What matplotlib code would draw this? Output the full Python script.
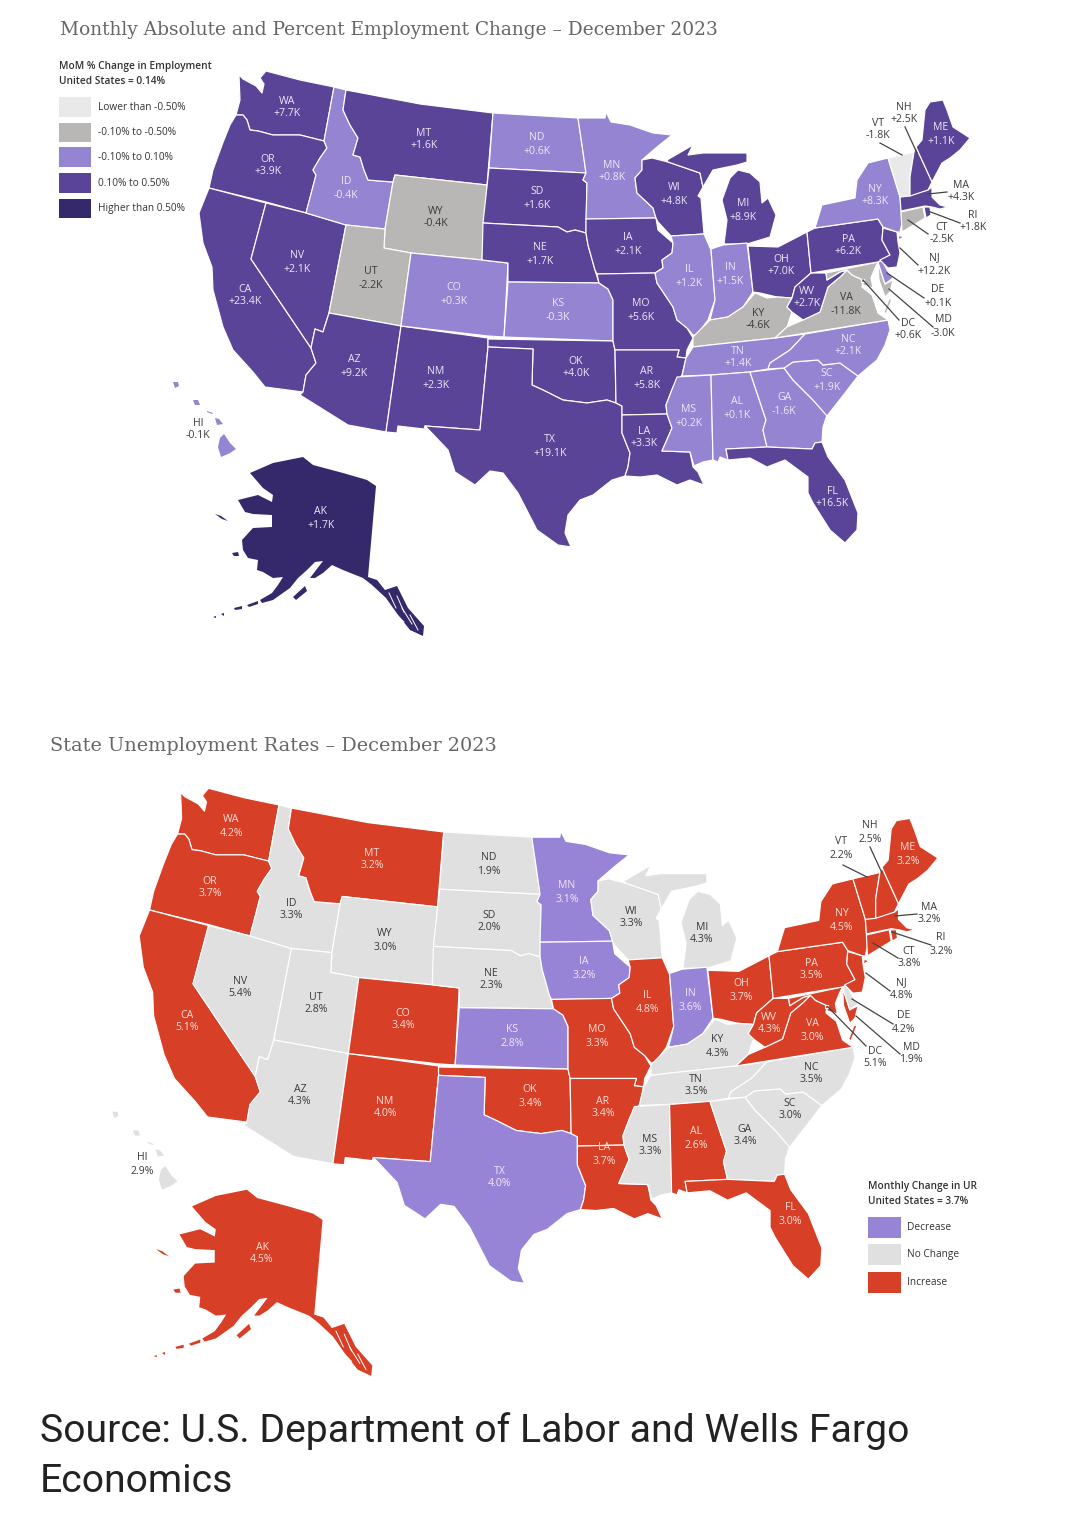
# -*- coding: utf-8 -*-
# Two state maps: employment change (top) and unemployment rate (bottom)
import matplotlib
matplotlib.use('Agg')
import matplotlib.pyplot as plt
from matplotlib.patches import Polygon, Rectangle

# Data ------------------------------------------------------------------------
states = ['WA','OR','CA','NV','ID','MT','WY','UT','AZ','NM','CO','ND','SD','NE','KS','OK','TX',
          'MN','IA','MO','AR','LA','WI','IL','MI','IN','OH','KY','TN','MS','AL','GA','FL','SC','NC',
          'VA','WV','MD','DE','DC','PA','NJ','NY','CT','RI','MA','VT','NH','ME','AK','HI']

emp_change = ['+7.7K','+3.9K','+23.4K','+2.1K','-0.4K','+1.6K','-0.4K','-2.2K','+9.2K','+2.3K','+0.3K','+0.6K','+1.6K','+1.7K','-0.3K','+4.0K','+19.1K',
              '+0.8K','+2.1K','+5.6K','+5.8K','+3.3K','+4.8K','+1.2K','+8.9K','+1.5K','+7.0K','-4.6K','+1.4K','+0.2K','+0.1K','-1.6K','+16.5K','+1.9K','+2.1K',
              '-11.8K','+2.7K','-3.0K','+0.1K','+0.6K','+6.2K','+12.2K','+8.3K','-2.5K','+1.8K','+4.3K','-1.8K','+2.5K','+1.1K','+1.7K','-0.1K']
# 0 lowest bin ... 4 highest bin
emp_bin = [3,3,3,3,2,3,1,1,3,3,2,2,3,3,2,3,3,
           2,3,3,3,3,3,2,3,2,3,1,2,2,2,2,3,2,2,
           1,3,1,2,2,3,3,2,1,3,3,0,3,3,4,2]

ur_rate = ['4.2%','3.7%','5.1%','5.4%','3.3%','3.2%','3.0%','2.8%','4.3%','4.0%','3.4%','1.9%','2.0%','2.3%','2.8%','3.4%','4.0%',
           '3.1%','3.2%','3.3%','3.4%','3.7%','3.3%','4.8%','4.3%','3.6%','3.7%','4.3%','3.5%','3.3%','2.6%','3.4%','3.0%','3.0%','3.5%',
           '3.0%','4.3%','1.9%','4.2%','5.1%','3.5%','4.8%','4.5%','3.8%','3.2%','3.2%','2.2%','2.5%','3.2%','4.5%','2.9%']
# -1 decrease, 0 no change, 1 increase
ur_move = [1,1,1,0,0,1,0,0,0,1,1,0,0,0,-1,1,-1,
           -1,-1,1,1,1,0,1,0,-1,1,0,0,0,1,0,1,0,0,
           1,1,1,0,1,1,1,1,1,1,1,1,1,1,1,0]

emp_bin_names = ['Lower than -0.50%','-0.10% to -0.50%','-0.10% to 0.10%','0.10% to 0.50%','Higher than 0.50%']
ur_move_names = ['Decrease','No Change','Increase']

# State outlines, hand traced (map units = pixels of the top map)
shapes = {
 'WA': [[(239,75),(243,79),(256,86),(262,93),(264,84),(260,78),(266,71),(300,80),(334,87),(324,141),(300,135),(273,135),(258,131),(250,130),(247,120),(243,115),(236,115),(240,100)]],
 'OR': [[(236,115),(243,115),(247,120),(250,130),(258,131),(273,135),(300,135),(324,141),(327,148),(320,158),(313,170),(316,175),(306,213),(266,202),(209,188),(213,170),(222,145),(230,125)]],
 'CA': [[(209,188),(266,203),(251,259),(311,348),(316,363),(306,375),(303,392),(265,387),(253,372),(233,350),(223,327),(213,290),(212,267),(203,243),(199,213)]],
 'NV': [[(266,203),(306,213),(346,225),(329,313),(323,332),(315,329),(311,348),(251,259)]],
 'ID': [[(334,87),(346,90),(343,110),(350,125),(358,138),(353,155),(360,157),(364,170),(368,180),(380,181),(393,182),(385,229),(346,225),(306,213),(316,175),(313,170),(320,158),(327,148),(324,141)]],
 'MT': [[(346,90),(420,104),(493,113),(487,185),(395,175),(393,182),(380,181),(368,180),(364,170),(360,157),(353,155),(358,138),(350,125),(343,110)]],
 'WY': [[(395,175),(487,185),(482,260),(411,253),(384,248),(385,229),(393,182)]],
 'UT': [[(346,225),(385,229),(384,248),(411,253),(401,326),(329,313)]],
 'AZ': [[(329,313),(401,326),(386,432),(348,425),(300,395),(303,392),(306,375),(316,363),(311,348),(315,329),(323,332)]],
 'NM': [[(401,326),(488,338),(488,347),(480,430),(425,426),(424,429),(398,426),(397,433),(386,432)]],
 'CO': [[(411,253),(482,260),(508,263),(504,337),(488,336),(401,326)]],
 'ND': [[(493,113),(578,118),(582,145),(586,173),(489,168)]],
 'SD': [[(489,168),(586,173),(583,180),(587,183),(586,233),(575,230),(567,232),(558,227),(483,223)]],
 'NE': [[(483,223),(558,227),(567,232),(575,230),(586,233),(588,245),(595,270),(599,283),(508,282),(508,263),(482,260)]],
 'KS': [[(508,282),(599,283),(608,289),(613,300),(613,341),(504,337)]],
 'OK': [[(488,339),(613,341),(615,350),(616,403),(607,400),(587,403),(563,400),(543,390),(532,385),(533,349),(488,347)]],
 'TX': [[(488,347),(533,349),(532,385),(543,390),(563,400),(587,403),(607,400),(616,403),(622,406),(622,433),(630,453),(628,467),(625,476),(612,480),(593,495),(580,500),(568,515),(565,533),(571,547),(558,545),(537,530),(518,493),(503,473),(490,471),(475,485),(455,472),(448,450),(427,428),(425,426),(480,430)]],
 'MN': [[(578,118),(605,118),(606,112),(611,122),(630,125),(653,133),(672,135),(657,147),(642,160),(642,170),(635,178),(637,193),(653,208),(656,218),(586,219),(587,183),(583,180),(586,173),(582,145)]],
 'IA': [[(586,219),(656,218),(658,230),(673,243),(672,253),(662,260),(663,268),(655,273),(597,274),(595,270),(588,245),(586,233)]],
 'MO': [[(597,274),(655,273),(657,283),(673,307),(677,320),(687,328),(693,338),(687,350),(686,358),(677,357),(679,350),(615,350),(613,341),(613,300),(608,289),(599,283)]],
 'AR': [[(615,350),(679,350),(677,357),(686,358),(682,375),(673,387),(666,405),(667,414),(622,415),(622,406),(616,403)]],
 'LA': [[(622,415),(667,414),(672,428),(662,451),(690,452),(693,467),(698,472),(704,485),(690,480),(677,485),(657,475),(640,477),(625,476),(628,467),(630,453),(622,433)]],
 'WI': [[(642,160),(652,158),(668,162),(700,173),(703,187),(698,196),(701,198),(704,234),(671,236),(658,222),(656,218),(653,208),(637,193),(635,178),(642,170)]],
 'IL': [[(671,236),(704,234),(711,250),(715,300),(708,320),(702,328),(697,335),(693,335),(687,328),(677,320),(673,307),(657,283),(655,273),(663,268),(662,260),(672,253),(673,243)]],
 'MI': [[(667,160),(693,145),(688,155),(703,153),(747,153),(747,162),(737,165),(713,170),(703,187),(700,173),(668,162)],
        [(738,170),(750,173),(760,182),(762,203),(768,198),(776,215),(770,237),(747,244),(724,244),(727,220),(722,200),(730,178)]],
 'IN': [[(711,249),(723,245),(747,243),(753,292),(743,307),(728,317),(710,320),(715,300)]],
 'OH': [[(748,246),(778,247),(807,232),(811,273),(795,287),(792,298),(777,297),(760,293),(753,292)]],
 'KY': [[(693,347),(693,337),(702,328),(710,320),(728,317),(743,307),(755,293),(767,298),(777,297),(792,298),(787,307),(792,312),(787,327),(775,338),(710,345)]],
 'TN': [[(686,358),(693,347),(710,345),(775,338),(805,334),(790,350),(770,363),(768,369),(750,372),(711,375),(682,376)]],
 'MS': [[(677,377),(711,375),(713,460),(703,462),(694,466),(690,452),(662,451),(672,428),(667,414),(666,405),(673,387)]],
 'AL': [[(711,375),(750,372),(766,420),(763,430),(767,447),(726,449),(728,460),(720,457),(718,462),(713,460)]],
 'GA': [[(750,372),(784,368),(793,380),(813,400),(827,415),(823,427),(822,442),(815,443),(812,449),(767,447),(763,430),(766,420)]],
 'FL': [[(726,449),(767,447),(812,449),(815,443),(822,442),(828,457),(845,480),(858,513),(857,530),(845,543),(830,530),(813,503),(808,493),(808,477),(785,460),(767,467),(750,458),(728,460)]],
 'SC': [[(784,368),(793,362),(818,360),(823,365),(840,363),(858,376),(845,393),(827,416),(813,400),(793,380)]],
 'NC': [[(768,369),(770,363),(790,350),(805,334),(888,320),(890,330),(885,345),(877,360),(858,376),(840,363),(823,365),(818,360),(793,362),(784,368)]],
 'VA': [[(775,338),(787,327),(803,320),(820,312),(828,287),(840,277),(847,270),(852,275),(863,280),(862,287),(872,295),(878,313),(888,320)],
        [(889,299),(892,299),(886,314),(884,312)]],
 'WV': [[(811,273),(826,273),(827,280),(840,272),(847,270),(840,277),(828,287),(820,312),(803,320),(792,312),(787,307),(792,298),(795,287)]],
 'MD': [[(826,273),(878,262),(875,268),(871,278),(873,288),(863,285),(863,280),(852,275),(847,270),(840,272),(827,280)],
        [(878,263),(885,284),(893,280),(890,292),(885,297),(879,280)]],
 'DE': [[(878,262),(882,260),(887,270),(893,278),(885,284)]],
 'DC': [[(861,279),(864,279),(864,282),(861,282)]],
 'PA': [[(807,232),(815,228),(878,219),(883,227),(882,240),(890,255),(878,262),(811,273)]],
 'NJ': [[(883,228),(897,232),(898,242),(900,253),(897,267),(888,268),(880,260),(890,255),(882,240)]],
 'NY': [[(815,228),(822,205),(855,198),(857,180),(868,163),(888,158),(900,197),(902,223),(900,232),(897,232),(883,227),(878,219)],
        [(898,240),(923,228),(903,237),(899,235)]],
 'CT': [[(901,212),(923,207),(925,218),(902,232)]],
 'RI': [[(924,207),(930,207),(931,215),(926,218)]],
 'MA': [[(900,197),(928,190),(932,187),(932,197),(940,205),(948,207),(940,209),(932,207),(925,206),(901,211)]],
 'VT': [[(888,158),(914,152),(910,177),(910,196),(900,197)]],
 'NH': [[(914,152),(916,147),(932,182),(928,190),(910,196),(910,177)]],
 'ME': [[(916,147),(922,140),(925,110),(930,102),(943,100),(947,110),(953,127),(970,138),(960,150),(950,158),(942,163),(932,182)]],
 'AK': [[(250,473),(273,463),(303,457),(313,465),(343,473),(367,480),(376,486),(368,577),(377,580),(385,590),(397,586),(408,608),(424,626),(423,636),(410,630),(398,615),(386,598),(372,585),(363,578),(343,570),(332,565),(323,573),(315,578),(310,578),(323,561),(315,562),(307,570),(298,578),(290,588),(273,600),(262,603),(260,600),(272,593),(278,585),(283,577),(273,578),(263,572),(257,570),(258,560),(248,558),(243,550),(242,540),(253,528),(272,527),(272,515),(253,514),(245,512),(238,500),(258,495),(272,502),(273,495),(263,488)],
        [(215,514),(221,516),(228,521),(222,519)],[(232,553),(238,552),(239,556),(234,556)],
        [(293,597),(305,586),(307,591),(296,600)],[(234,608),(242,606),(242,609),(235,610)],
        [(247,605),(258,601),(258,604),(249,607)],[(221,614),(224,613),(224,616)],[(213,617),(216,616),(216,618)]],
 'HI': [[(224,434),(230,443),(236,449),(230,453),(221,457),(218,447),(220,438)],[(215,418),(219,419),(223,424),(217,425)],
        [(207,411),(213,413),(212,414),(207,412)],[(193,400),(198,400),(200,405),(195,405)],[(173,382),(178,382),(179,386),(175,388)]],
}
# White channels between the islands of the Alaska panhandle
ak_flecks = [((389,593),(396,608)),((397,596),(404,612)),((402,608),(412,624)),((410,615),(418,630)),((394,612),(404,622))]
no_edge = ['AK', 'HI']

# Positions of the state labels on each map, state: (x, y of the first line)
top_pos = {'WA':(287,101),'OR':(268,159),'MT':(424,133),'ID':(346,182),'WY':(436,211),'NV':(297,256),'UT':(371,272),'CA':(245,289),'CO':(454,288),
           'AZ':(354,360),'NM':(436,372),'ND':(537,138),'SD':(537,192),'NE':(540,248),'KS':(558,304),'OK':(576,361),'TX':(550,440),'MN':(612,165),
           'IA':(628,238),'MO':(641,304),'AR':(647,372),'LA':(644,431),'WI':(674,188),'IL':(689,270),'IN':(730,268),'MI':(743,204),'OH':(781,259),
           'KY':(758,313),'TN':(738,351),'MS':(689,410),'AL':(737,402),'GA':(784,398),'SC':(827,374),'NC':(848,339),'FL':(832,491),'WV':(807,291),
           'VA':(846,298),'PA':(848,239),'NY':(875,189),'ME':(941,128),'AK':(321,512),'HI':(198,423),'VT':(878,123),'NH':(904,107),'MA':(961,185),
           'RI':(973,215),'CT':(942,227),'NJ':(934,258),'DE':(938,290),'MD':(943,320),'DC':(908,323)}
low_pos = {'WA':(231,820),'OR':(210,881),'MT':(372,853),'ID':(291,903),'WY':(385,934),'NV':(240,981),'UT':(316,997),'CA':(187,1015),'CO':(403,1013),
           'AZ':(300,1089),'NM':(385,1101),'ND':(489,858),'SD':(489,915),'NE':(491,973),'KS':(512,1030),'OK':(530,1090),'TX':(500,1171),'MN':(567,886),
           'IA':(584,962),'MO':(597,1030),'AR':(603,1101),'LA':(604,1148),'WI':(631,911),'IL':(647,996),'IN':(690,994),'MI':(702,927),'OH':(741,984),
           'KY':(717,1040),'TN':(696,1079),'MS':(650,1139),'AL':(696,1132),'GA':(745,1129),'SC':(790,1103),'NC':(811,1067),'FL':(790,1208),'WV':(769,1017),
           'VA':(812,1024),'PA':(811,963),'NY':(842,914),'ME':(908,848),'AK':(262,1247),'HI':(142,1158),'VT':(841,842),'NH':(870,826),'MA':(929,907),
           'RI':(941,938),'CT':(909,951),'NJ':(901,983),'DE':(904,1016),'MD':(911,1047),'DC':(875,1051)}

# Leader lines for the small eastern states
top_leaders = [((880,143),(902,155)),((905,127),(917,153)),((928,194),(947,192)),((928,211),(960,223)),((908,220),(928,234)),
               ((900,248),(918,265)),((887,273),(924,298)),((889,289),(933,327)),((863,280),(899,320))]
low_leaders = [((843,865),(867,877)),((870,847),(882,873)),((895,916),(917,914)),((892,932),(931,945)),((873,943),(898,958)),
               ((866,973),(890,991)),((852,999),(893,1024)),((856,1016),(900,1054)),((828,1007),(866,1046))]

# Colours
emp_colors = ['#e9e9e9','#b8b7b5','#9484d2','#5a4498','#35296b']
ur_colors = {-1:'#9884d6',0:'#e0e0e0',1:'#d83f27'}
outside = ['HI','VT','NH','MA','RI','CT','NJ','DE','MD','DC']
text_font = 'Open Sans'
label_size = 7.6
legend_size = 7.3


def draw_states(ax, colors):
    for st, col in zip(states, colors):
        lw = 0 if st in no_edge else 0.85
        for part in shapes[st]:
            ax.add_patch(Polygon(part, closed=True, facecolor=col, edgecolor='white', lw=lw, joinstyle='round'))
    for a, b in ak_flecks:
        ax.plot([a[0], b[0]], [a[1], b[1]], color='white', lw=0.7)


def draw_labels(ax, pos, values, fills, dark_fills):
    for st, val, fill in zip(states, values, fills):
        x, y = pos[st]
        col = '#3a3a3a' if (st in outside or fill in dark_fills) else '#ece8f6'
        if fill == '#d83f27' and st not in outside:
            col = '#fbe0d8'
        ax.text(x, y, st, ha='center', va='center', fontsize=label_size, color=col, family=text_font)
        ax.text(x, y+13, val, ha='center', va='center', fontsize=label_size, color=col, family=text_font)


def legend(ax, x, y_title, title, names, cols, boxes, w, x_txt):
    ax.text(x, y_title, title[0], fontsize=legend_size, color='#333333', va='center', family=text_font, fontweight='semibold')
    ax.text(x, y_title+(14 if len(names) == 5 else 16), title[1], fontsize=legend_size, color='#333333', va='center', family=text_font, fontweight='semibold')
    for name, col, (y0, y1) in zip(names, cols, boxes):
        ax.add_patch(Rectangle((x, y0), w, y1-y0, facecolor=col, edgecolor='none'))
        ax.text(x_txt, (y0+y1)/2, name, fontsize=legend_size, color='#333333', va='center', family=text_font)


fig = plt.figure(figsize=(10.8, 15.24), dpi=100)

# Top map uses picture pixels directly, the bottom one is the same outline scaled
ax1 = fig.add_axes([0, 0, 1, 1])
ax1.set_xlim(0, 1080)
ax1.set_ylim(1524, 0)
ax1.axis('off')

ax2 = fig.add_axes([0, 0, 1, 1])
ax2.set_xlim(64.67, 1107.2)
ax2.set_ylim(778.4, -687)
ax2.axis('off')

emp_fill = [emp_colors[b] for b in emp_bin]
ur_fill = [ur_colors[m] for m in ur_move]
draw_states(ax1, emp_fill)
draw_states(ax2, ur_fill)

# Text layer on top, in pixels
ax3 = fig.add_axes([0, 0, 1, 1])
ax3.set_xlim(0, 1080)
ax3.set_ylim(1524, 0)
ax3.axis('off')

draw_labels(ax3, top_pos, emp_change, emp_fill, [emp_colors[1], emp_colors[0]])
draw_labels(ax3, low_pos, ur_rate, ur_fill, [ur_colors[0]])

for a, b in top_leaders + low_leaders:
    ax3.plot([a[0], b[0]], [a[1], b[1]], color='#444444', lw=0.9)

ax3.text(60, 30, 'Monthly Absolute and Percent Employment Change \u2013 December 2023', fontsize=13.45,
         family='DejaVu Serif', color='#666666', va='center')
ax3.text(50, 746, 'State Unemployment Rates \u2013 December 2023', fontsize=13.9,
         family='DejaVu Serif', color='#666666', va='center')

legend(ax3, 59, 67, ['MoM % Change in Employment', 'United States = 0.14%'], emp_bin_names, emp_colors,
       [(97,117),(123,142),(147,167),(173,193),(199,218)], 32, 98)
legend(ax3, 868, 1186, ['Monthly Change in UR', 'United States = 3.7%'], ur_move_names,
       [ur_colors[-1], ur_colors[0], ur_colors[1]], [(1217,1238),(1244,1265),(1272,1293)], 33, 907)

ax3.text(40, 1431, 'Source: U.S. Department of Labor and Wells Fargo', fontsize=28.2, family='Roboto', color='#222222', va='center')
ax3.text(40, 1482, 'Economics', fontsize=28.2, family='Roboto', color='#222222', va='center')

fig.savefig('out.png', dpi=100, facecolor='white')
